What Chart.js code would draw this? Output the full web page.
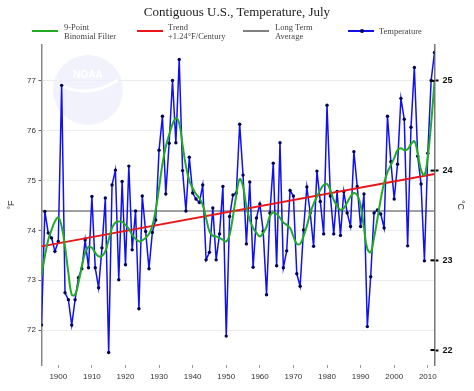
<!DOCTYPE html>
<html>
<head>
<meta charset="utf-8">
<script src="https://cdn.jsdelivr.net/npm/chart.js@4.4.1/dist/chart.umd.min.js"></script>
<style>
  html, body { margin: 0; padding: 0; background: #fff; }
  #wrap { position: relative; width: 474px; height: 391px; }
  #title { position: absolute; left: 0; top: 4px; width: 474px; text-align: center;
           font: 13px "Liberation Serif", "Times New Roman", serif; color: #222; }
  .leg { position: absolute; font: 8.5px/9px "Liberation Serif", serif; color: #444; white-space: nowrap; }
  .swatch { position: absolute; top: 30px; width: 26px; height: 2px; }
  .dot { position: absolute; left: 360px; top: 29px; width: 4px; height: 4px; border-radius: 2px; background: #00005a; }
  canvas { position: absolute; left: 0; top: 0; }
</style>
</head>
<body>
<div id="wrap">
  <canvas id="chart" width="474" height="391"></canvas>
  <div id="title">Contiguous U.S., Temperature, July</div>
  <div class="swatch" style="left:32px;background:#22aa22"></div>
  <div class="leg" style="left:64px;top:23px">9-Point<br>Binomial Filter</div>
  <div class="swatch" style="left:137px;background:#e8161b"></div>
  <div class="leg" style="left:168px;top:23px">Trend<br>+1.24°F/Century</div>
  <div class="swatch" style="left:243px;background:#808080"></div>
  <div class="leg" style="left:275px;top:23px">Long Term<br>Average</div>
  <div class="swatch" style="left:348px;background:#1010f0"></div>
  <div class="dot"></div>
  <div class="leg" style="left:379px;top:27px">Temperature</div>
</div>
<script>
// July temperature, contiguous U.S., deg F, 1895-2012
const tempF = [
  72.10, 74.38, 73.95, 73.85, 73.58,
  73.78, 76.91, 72.75, 72.61, 72.10, 72.61, 73.05, 73.23, 73.81, 73.25,
  74.68, 73.25, 72.85, 73.65, 74.65, 71.55, 74.91, 75.21, 73.01, 74.98,
  73.31, 75.29, 73.61, 74.39, 72.43, 74.69, 73.98, 73.23, 73.96, 74.21,
  75.61, 76.29, 74.73, 75.75, 77.01, 75.76, 77.43, 75.20, 74.39, 75.47,
  74.75, 74.63, 74.56, 74.91, 73.41, 73.56, 74.45, 73.41, 73.93, 74.88,
  71.88, 74.28, 74.71, 74.75, 76.13, 75.11, 73.73, 74.97, 73.26, 74.25,
  74.53, 73.98, 72.71, 74.35, 75.35, 73.29, 75.76, 73.25, 73.59, 74.80,
  74.69, 73.13, 72.88, 74.01, 74.87, 74.35, 73.68, 75.19, 74.58, 73.93,
  76.51, 74.69, 73.93, 74.78, 73.90, 74.78, 74.35, 74.08, 75.58, 74.88,
  74.08, 74.73, 72.07, 73.07, 74.35, 74.41, 74.33, 74.05, 76.29, 75.38,
  74.63, 75.33, 76.65, 76.23, 73.69, 76.07, 77.27, 75.49, 74.93, 73.39,
  75.55, 77.01, 77.57
];

// 9-point binomial filter
const filterF = [
  73.10, 73.48, 73.81, 74.01, 74.18,
  74.26, 74.08, 73.68, 73.15, 72.71, 72.71, 72.95, 73.28, 73.55, 73.67,
  73.65, 73.55, 73.48, 73.49, 73.58, 73.81, 74.05, 74.16, 74.18, 74.17,
  74.11, 74.03, 73.91, 73.83, 73.78, 73.80, 73.85, 73.93, 74.09, 74.41,
  74.85, 75.33, 75.68, 75.92, 76.13, 76.25, 76.15, 75.71, 75.29, 75.00,
  74.85, 74.73, 74.65, 74.51, 74.25, 73.98, 73.89, 73.88, 73.85, 73.81,
  73.78, 73.91, 74.28, 74.71, 75.03, 74.88, 74.48, 74.21, 74.05, 73.95,
  73.88, 73.95, 74.07, 74.29, 74.36, 74.33, 74.25, 74.16, 74.11, 74.05,
  73.88, 73.73, 73.73, 73.88, 74.09, 74.35, 74.53, 74.68, 74.81, 74.91,
  74.93, 74.81, 74.61, 74.50, 74.41, 74.45, 74.56, 74.68, 74.75, 74.71,
  74.51, 74.05, 73.63, 73.56, 73.85, 74.23, 74.63, 74.95, 75.17, 75.31,
  75.45, 75.61, 75.65, 75.61, 75.63, 75.73, 75.79, 75.55, 75.21, 75.11,
  75.48, 76.15, 76.98
];

const firstYear = 1895;
const years = tempF.map((v, i) => firstYear + i);

const trendYears = [1895, 2012];
const trendF = [73.68, 75.13];
const averageF = [74.39, 74.39];

const xTicks = [1900, 1910, 1920, 1930, 1940, 1950, 1960, 1970, 1980, 1990, 2000, 2010];
const fTicks = [72, 73, 74, 75, 76, 77];
const cTicks = [22, 23, 24, 25];

const fMin = 71.3;
const fMax = 77.72;

const toPoints = (xs, ys) => xs.map((x, i) => ({ x: x, y: ys[i] }));

const tickFont = { family: "'Liberation Sans', Arial, sans-serif", size: 8 };

// faint NOAA seal behind the data
const watermark = {
  id: "watermark",
  beforeDatasetsDraw(chart) {
    const c = chart.ctx;
    c.save();
    c.fillStyle = "rgba(236,238,250,0.75)";
    c.beginPath();
    c.arc(88, 90, 35, 0, Math.PI * 2);
    c.fill();
    c.fillStyle = "#fff";
    c.font = "bold 10px 'Liberation Sans', sans-serif";
    c.textAlign = "center";
    c.fillText("NOAA", 88, 78);
    c.strokeStyle = "#fff";
    c.lineWidth = 3;
    c.beginPath();
    c.moveTo(58, 84);
    c.quadraticCurveTo(88, 100, 118, 80);
    c.stroke();
    c.restore();
  },
};

// right axis tick marks cross the axis line
const crossTicks = {
  id: "crossTicks",
  afterDraw(chart) {
    const s = chart.scales.y2;
    const c = chart.ctx;
    c.save();
    c.strokeStyle = "#000";
    c.lineWidth = 2;
    s.ticks.forEach((t) => {
      const y = s.getPixelForValue(t.value);
      c.beginPath();
      c.moveTo(s.left - 4, y);
      c.lineTo(s.left, y);
      c.stroke();
    });
    c.restore();
  },
};

const ctx = document.getElementById("chart").getContext("2d");
const chart = new Chart(ctx, {
  type: "line",
  data: {
    datasets: [
      {
        label: "9-Point Binomial Filter",
        data: toPoints(years, filterF),
        borderColor: "#22aa22",
        borderWidth: 2,
        pointRadius: 0,
        tension: 0.4,
      },
      {
        label: "Trend +1.24°F/Century",
        data: toPoints(trendYears, trendF),
        borderColor: "#e8161b",
        borderWidth: 2,
        pointRadius: 0,
      },
      {
        label: "Temperature",
        data: toPoints(years, tempF),
        borderColor: "#1010f0",
        borderWidth: 1.5,
        pointRadius: 1.7,
        pointBorderWidth: 0,
        pointBackgroundColor: "#00005a",
      },
      {
        label: "Long Term Average",
        data: toPoints(trendYears, averageF),
        borderColor: "#808080",
        borderWidth: 1.3,
        pointRadius: 0,
      },
    ],
  },
  options: {
    responsive: false,
    animation: false,
    layout: { padding: { top: 45 } },
    plugins: {
      legend: { display: false },
      title: { display: false },
      tooltip: { enabled: false },
    },
    scales: {
      x: {
        type: "linear",
        min: 1895,
        max: 2012,
        afterBuildTicks: (s) => { s.ticks = xTicks.map((v) => ({ value: v })); },
        afterFit: (s) => { s.height = 26; },
        ticks: { font: tickFont, color: "#333", padding: 4, maxRotation: 0, callback: (v) => String(v) },
        grid: { drawOnChartArea: false, tickLength: 3, tickColor: "#999" },
        border: { display: false },
      },
      y: {
        position: "left",
        min: fMin,
        max: fMax,
        afterBuildTicks: (s) => { s.ticks = fTicks.map((v) => ({ value: v })); },
        afterFit: (s) => { s.width = 41.5; },
        ticks: { font: tickFont, color: "#333", padding: 2.5 },
        grid: { color: "#ececec", tickLength: 3, tickColor: "#666" },
        border: { color: "#888", width: 1.5 },
        title: { display: true, text: "°F", font: { family: "'Liberation Sans', Arial, sans-serif", size: 9 }, color: "#333", padding: { top: 6.6, bottom: 0 } },
      },
      y2: {
        position: "right",
        min: (fMin - 32) / 1.8,
        max: (fMax - 32) / 1.8,
        afterBuildTicks: (s) => { s.ticks = cTicks.map((v) => ({ value: v })); },
        afterFit: (s) => { s.width = 39.5; },
        ticks: { font: { family: "'Liberation Sans', Arial, sans-serif", size: 9, weight: "bold" }, color: "#111", padding: 4 },
        grid: { drawOnChartArea: false, tickLength: 4, tickWidth: 2, tickColor: "#000" },
        border: { color: "#777", width: 1.5 },
        title: { display: true, text: "°C", font: { family: "'Liberation Sans', Arial, sans-serif", size: 9 }, color: "#333", padding: { top: 8.6, bottom: 0 } },
      },
    },
  },
  plugins: [watermark, crossTicks],
});
</script>
</body>
</html>
